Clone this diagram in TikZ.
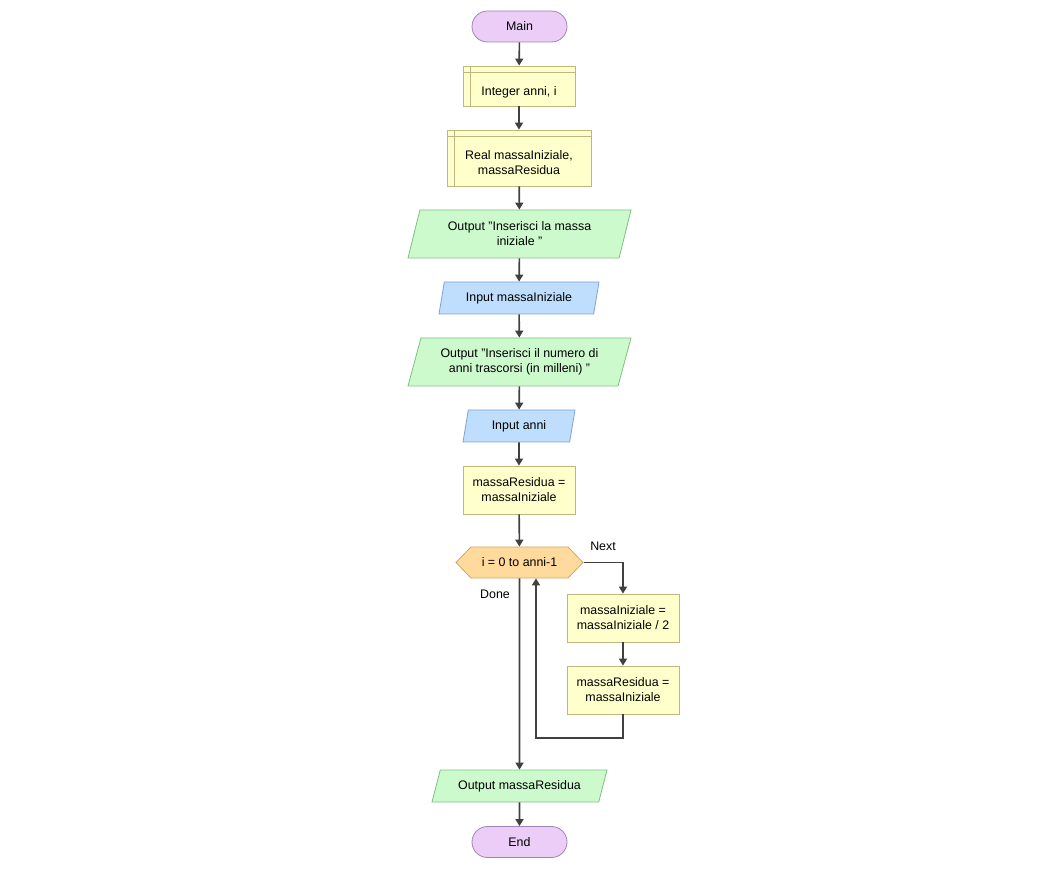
\documentclass[tikz,border=0pt]{standalone}
\usepackage{fontspec}
\setmainfont{Liberation Sans}
\usepackage{tikz}
\usetikzlibrary{positioning}
\usetikzlibrary{shapes.geometric}
\usetikzlibrary{shapes.symbols}
\usetikzlibrary{arrows.meta}

\definecolor{termfill}{HTML}{EBCDF8}
\definecolor{termline}{HTML}{A384B3}
\definecolor{procfill}{HTML}{FFFFCC}
\definecolor{procline}{HTML}{BDB77E}
\definecolor{outfill}{HTML}{CCFACC}
\definecolor{outline}{HTML}{80BF80}
\definecolor{infill}{HTML}{BFDDFC}
\definecolor{inline}{HTML}{7FA3CC}
\definecolor{loopfill}{HTML}{FFDA9C}
\definecolor{loopline}{HTML}{D2A85C}
\definecolor{flowcol}{HTML}{404040}

% testo delle dichiarazioni, un po' piu' in basso
\newcommand{\decltext}[1]{\raisebox{-6.5pt}[\height][\depth]{\begin{tabular}{@{}c@{}}#1\end{tabular}}}

\tikzset{
    base/.style={draw, line width=0.8pt, font=\fontsize{12.4}{15}\selectfont, align=center, inner sep=2pt},
    term/.style={base, rectangle, rounded corners=15.5pt, fill=termfill, draw=termline, minimum width=95pt, minimum height=31pt},
    proc/.style={base, rectangle, fill=procfill, draw=procline, minimum width=112pt, minimum height=48pt},
    decl/.style={proc, path picture={
        \draw[procline, line width=0.8pt] ([xshift=7pt]path picture bounding box.north west) -- ([xshift=7pt]path picture bounding box.south west);
        \draw[procline, line width=0.8pt] ([yshift=-6pt]path picture bounding box.north west) -- ([yshift=-6pt]path picture bounding box.north east);
    }},
    outp/.style={base, trapezium, trapezium left angle=67, trapezium right angle=113, trapezium stretches body, fill=outfill, draw=outline, minimum width=223pt, minimum height=48pt},
    inp/.style={base, trapezium, trapezium left angle=71, trapezium right angle=109, trapezium stretches body, fill=infill, draw=inline, minimum height=32pt},
    loopbox/.style={base, signal, signal to=west and east, signal pointer angle=92, fill=loopfill, draw=loopline, minimum width=127pt, minimum height=31pt},
    flow/.style={draw=flowcol, line width=1.6pt, -{Triangle[length=7pt,width=8pt]}},
    lbl/.style={font=\fontsize{12.4}{15}\selectfont, inner sep=0pt},
}

\begin{document}
\begin{tikzpicture}[x=1pt, y=-1pt]
\useasboundingbox (0, 0) rectangle (1053, 877);

% blocchi principali
\node[term] (main) at (519.5, 26.5) {Main};
\node[decl, minimum height=40pt] (intdecl) at (519, 86) {\decltext{Integer anni, i}};
\node[decl, minimum width=144pt, minimum height=56pt] (realdecl) at (519, 158) {\decltext{Real massaIniziale,\\ massaResidua}};
\node[outp] (outmassa) at (519.5, 234) {Output "Inserisci la massa\\ iniziale "};
\node[inp, minimum width=160pt] (inmassa) at (519, 298) {Input massaIniziale};
\node[outp] (outanni) at (519.5, 362) {Output "Inserisci il numero di\\ anni trascorsi (in milleni) "};
\node[inp, minimum width=112pt] (inanni) at (519, 426) {Input anni};
\node[proc] (assres) at (519, 490) {massaResidua =\\ massaIniziale};
\node[loopbox] (ciclo) at (519.5, 562.5) {i = 0 to anni-1};

% corpo del ciclo
\node[proc] (dimezza) at (623, 618) {massaIniziale =\\ massaIniziale / 2};
\node[proc] (aggres) at (623, 690) {massaResidua =\\ massaIniziale};

% fine
\node[outp, trapezium left angle=62, trapezium right angle=118, minimum width=175pt, minimum height=32pt] (outres) at (519.5, 786) {Output massaResidua};
\node[term] (fine) at (519.5, 842) {End};

% etichette
\node[lbl] (next) at (603, 546) {Next};
\node[lbl] (done) at (495, 594) {Done};

% frecce
\draw[flow] (main) -- (intdecl);
\draw[flow] (intdecl) -- (realdecl);
\draw[flow] (realdecl) -- (outmassa);
\draw[flow] (outmassa) -- (inmassa);
\draw[flow] (inmassa) -- (outanni);
\draw[flow] (outanni) -- (inanni);
\draw[flow] (inanni) -- (assres);
\draw[flow] (assres) -- (ciclo);
\draw[flow] (ciclo.east) -| (dimezza.north);
\draw[flow] (dimezza) -- (aggres);
\coordinate (ritorno) at (623, 738);
\draw[flow] (aggres.south) -- (ritorno) -| ([xshift=16.5pt]ciclo.south);
\draw[flow] (ciclo.south) -- (outres);
\draw[flow] (outres) -- (fine);
\end{tikzpicture}
\end{document}
